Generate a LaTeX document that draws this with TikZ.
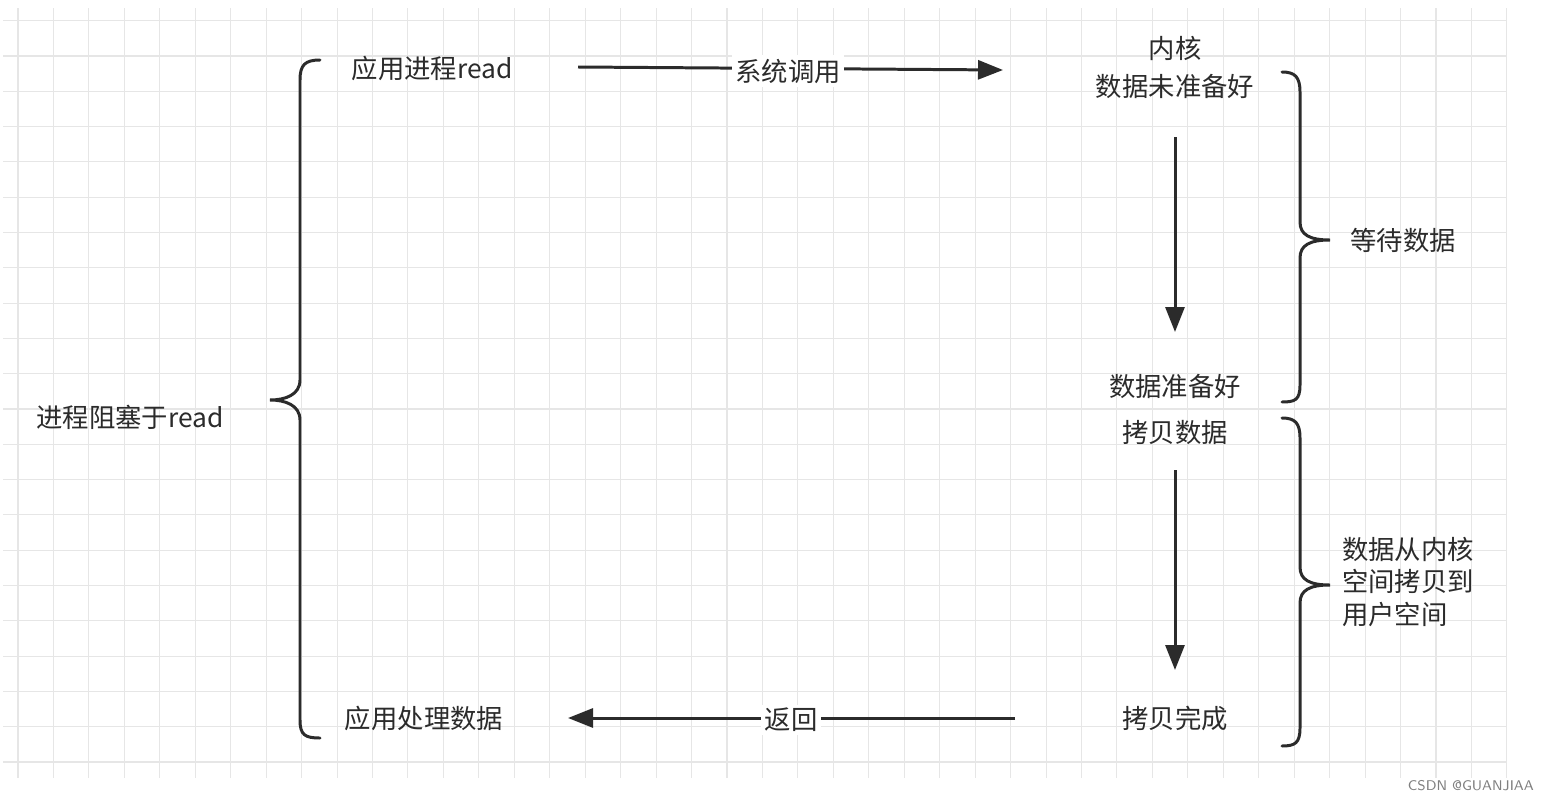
\documentclass[tikz,border=0pt]{standalone}
\usepackage{fontspec}
\setmainfont{Noto Sans CJK SC}
\usetikzlibrary{arrows.meta}
\definecolor{ink}{HTML}{2B2B2B}
\definecolor{gridc}{HTML}{E6E6E6}
\tikzset{
 lbl/.style={text=ink,font=\fontsize{15}{19}\selectfont,inner sep=1pt},
 arr/.style={draw=ink,line width=1.7pt,-{Triangle[length=0.5cm,width=0.38cm]}},
 brace/.style={draw=ink,line width=1.7pt,line cap=round}
}
\begin{document}
\begin{tikzpicture}[x=0.02cm,y=-0.02cm]
\useasboundingbox (0,0) rectangle (1555,801);
\fill[white] (0,0) rectangle (1555,801);
\foreach \i in {0,...,42} {\draw[gridc,line width=0.6pt] ({18+35.45*\i},8) -- ({18+35.45*\i},778);}
\foreach \j in {0,...,21} {\draw[gridc,line width=0.6pt] (3,{20.7+35.3*\j}) -- (1507,{20.7+35.3*\j});}
% left brace
\draw[brace] (320,60) .. controls (305,60) and (300,65) .. (300,80) -- (300,380) .. controls (300,395) and (285,400) .. (270,400) .. controls (285,400) and (300,405) .. (300,420) -- (300,720) .. controls (300,735) and (305,738) .. (320,738);
% right brace 1
\draw[brace] (1282,72) .. controls (1295,72) and (1300,77) .. (1300,92) -- (1300,222) .. controls (1300,235) and (1310,240) .. (1330,240) .. controls (1310,240) and (1300,245) .. (1300,258) -- (1300,385) .. controls (1300,400) and (1295,402) .. (1282,402);
% right brace 2
\draw[brace] (1282,418) .. controls (1295,418) and (1300,423) .. (1300,438) -- (1300,567) .. controls (1300,580) and (1310,585) .. (1330,585) .. controls (1310,585) and (1300,590) .. (1300,603) -- (1300,728) .. controls (1300,743) and (1295,746) .. (1282,746);
\node[lbl] (block) at (130,417) {进程阻塞于read};
\node[lbl] (appread) at (432,68) {应用进程read};
\node[lbl] (kern) at (1175,48) {内核};
\node[lbl] (notready) at (1175,86) {数据未准备好};
\node[lbl] (wait) at (1403,240) {等待数据};
\node[lbl] (ready) at (1175,386) {数据准备好};
\node[lbl] (copy) at (1175,433) {拷贝数据};
\node[lbl,align=left,anchor=west,font=\fontsize{15}{18.6}\selectfont] (copyk) at (1340,582) {数据从内核\\空间拷贝到\\用户空间};
\node[lbl] (done) at (1175,718) {拷贝完成};
\node[lbl] (proc) at (424,718) {应用处理数据};
\coordinate (a1s) at (578,67); \coordinate (a1e) at (1003,70);
\coordinate (a2s) at (1175,137); \coordinate (a2e) at (1175,332);
\coordinate (a3s) at (1175,470); \coordinate (a3e) at (1175,670);
\coordinate (a4s) at (1015,718); \coordinate (a4e) at (568,718);
\draw[arr] (a1s) -- (a1e);
\draw[arr] (a2s) -- (a2e);
\draw[arr] (a3s) -- (a3e);
\draw[arr] (a4s) -- (a4e);
\node[lbl,fill=white,inner sep=2pt] (sys) at (788,71) {系统调用};
\node[lbl,fill=white,inner sep=2pt] (ret) at (791,720) {返回};
\node[text=gray,font=\fontsize{8}{10}\selectfont\sffamily,anchor=east] (wm) at (1540,786) {CSDN @GUANJIAA};
\end{tikzpicture}
\end{document}
